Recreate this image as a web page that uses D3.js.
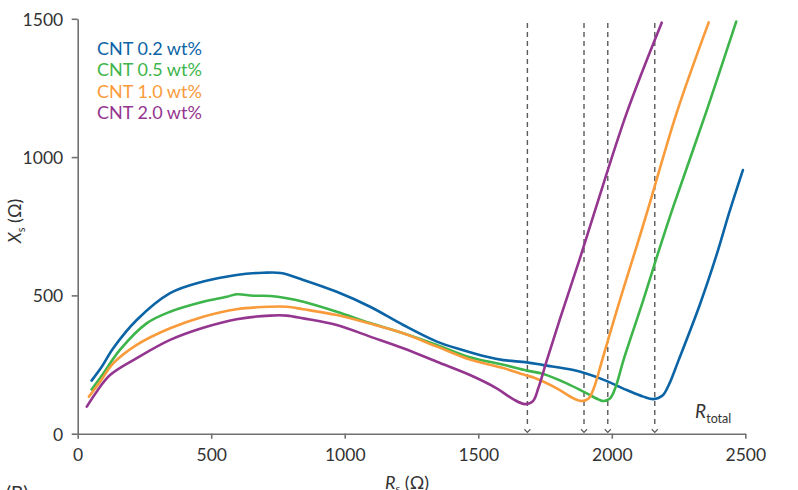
<!DOCTYPE html>
<html>
<head>
<meta charset="utf-8">
<script src="https://cdn.jsdelivr.net/npm/d3@7"></script>
<style>
  html, body { margin: 0; padding: 0; background: #ffffff; }
  svg { display: block; }
</style>
</head>
<body>
<svg id="chart" width="798" height="490"></svg>
<script>
// series names and colours
const seriesNames = ['CNT 0.2 wt%', 'CNT 0.5 wt%', 'CNT 1.0 wt%', 'CNT 2.0 wt%'];
const seriesColors = ['#0b64a5', '#3db54a', '#f99b3b', '#94368f'];

// [Rs, Xs] pairs
const cnt02 = [
  [52, 192], [90, 242], [133, 309], [221, 411], [346, 508], [470, 550], [595, 574],
  [695, 582], [760, 581], [845, 556], [970, 513], [1095, 459], [1219, 393], [1345, 333],
  [1444, 302], [1532, 278], [1594, 266], [1682, 258], [1744, 248], [1856, 230],
  [1956, 200], [2056, 158], [2118, 134], [2156, 125], [2190, 138], [2213, 175],
  [2250, 265], [2331, 470], [2393, 648], [2440, 800], [2491, 953]
];
const cnt05 = [
  [52, 160], [96, 218], [158, 303], [258, 399], [346, 441], [470, 477], [558, 495],
  [595, 504], [658, 499], [721, 498], [783, 490], [845, 477], [970, 441], [1095, 400],
  [1219, 363], [1345, 321], [1469, 276], [1590, 250], [1682, 228], [1744, 216],
  [1831, 182], [1906, 146], [1950, 124], [1969, 118], [1993, 127], [2013, 165],
  [2045, 270], [2118, 483], [2169, 640], [2230, 820], [2356, 1170], [2466, 1490]
];
const cnt10 = [
  [42, 134], [84, 188], [133, 254], [221, 321], [346, 381], [470, 423], [595, 450],
  [720, 459], [783, 459], [845, 450], [970, 429], [1095, 398], [1219, 363], [1345, 315],
  [1469, 268], [1590, 238], [1682, 210], [1707, 203], [1794, 164], [1856, 128],
  [1888, 118], [1913, 127], [1933, 165], [1965, 270], [2031, 485], [2094, 680],
  [2132, 800], [2243, 1160], [2363, 1487]
];
const cnt20 = [
  [34, 98], [71, 152], [121, 212], [221, 273], [346, 339], [470, 383], [595, 414],
  [720, 427], [783, 427], [845, 417], [970, 393], [1095, 351], [1219, 309], [1345, 260],
  [1469, 212], [1569, 164], [1632, 124], [1675, 107], [1705, 118], [1725, 165],
  [1755, 260], [1806, 415], [1881, 635], [1935, 800], [2056, 1160], [2187, 1486]
];
const seriesData = [cnt02, cnt05, cnt10, cnt20];

// R_total positions (dashed markers)
const rTotal = [1684, 1896, 1985, 2161];

const xTicks = [0, 500, 1000, 1500, 2000, 2500];
const yTicks = [0, 500, 1000, 1500];

const FONT = 'Lato, "DejaVu Sans", sans-serif';
const TEXT = '#333333';
const AXIS = '#707070';

const svg = d3.select('#chart');

const x = d3.scaleLinear().domain([0, 2500]).range([77.7, 745.3]);
const y = d3.scaleLinear().domain([0, 1500]).range([433.7, 18.8]);

// axes
const xAxis = svg.append('g')
  .attr('transform', `translate(0, ${y(0)})`)
  .call(d3.axisBottom(x).tickValues(xTicks).tickSize(5).tickSizeOuter(0).tickFormat(d3.format('d')));

xAxis.selectAll('text')
  .attr('dy', null)
  .attr('y', 27.5)
  .attr('fill', TEXT)
  .attr('font-size', 17.5)
  .attr('font-family', FONT);

const yAxis = svg.append('g')
  .attr('transform', `translate(${x(0)}, 0)`)
  .call(d3.axisLeft(y).tickValues(yTicks).tickSize(6).tickSizeOuter(0).tickFormat(d3.format('d')));

yAxis.selectAll('text')
  .attr('x', -14.5)
  .attr('dy', '0.36em')
  .attr('fill', TEXT)
  .attr('font-size', 17.5)
  .attr('font-family', FONT);

svg.selectAll('.domain, .tick line')
  .attr('stroke', AXIS)
  .attr('stroke-width', 1.6);

// dashed R_total markers
const markers = svg.append('g');
rTotal.forEach((r) => {
  markers.append('line')
    .attr('x1', x(r))
    .attr('x2', x(r))
    .attr('y1', y(1485))
    .attr('y2', y(25))
    .attr('stroke', '#5a5a5a')
    .attr('stroke-width', 1.4)
    .attr('stroke-dasharray', '5,4');

  markers.append('path')
    .attr('d', `M${x(r) - 3},${y(16)} L${x(r)},${y(5)} L${x(r) + 3},${y(16)}`)
    .attr('fill', 'none')
    .attr('stroke', '#5a5a5a')
    .attr('stroke-width', 1.2);
});

// curves
const line = d3.line()
  .x((d) => x(d[0]))
  .y((d) => y(d[1]))
  .curve(d3.curveCatmullRom.alpha(0.5));

seriesData.forEach((data, i) => {
  svg.append('path')
    .datum(data)
    .attr('d', line)
    .attr('fill', 'none')
    .attr('stroke', seriesColors[i])
    .attr('stroke-width', 2.6)
    .attr('stroke-linejoin', 'round')
    .attr('stroke-linecap', 'round');
});

// legend
seriesNames.forEach((name, i) => {
  svg.append('text')
    .attr('x', 97)
    .attr('y', 55 + (i * 21.3))
    .attr('fill', seriesColors[i])
    .attr('font-size', 18)
    .attr('font-family', FONT)
    .text(name);
});

// R_total label
const rLabel = svg.append('text')
  .attr('x', x(2312))
  .attr('y', y(56))
  .attr('fill', TEXT)
  .attr('font-family', FONT)
  .attr('font-size', 19);
rLabel.append('tspan').attr('font-style', 'italic').text('R');
rLabel.append('tspan').attr('font-size', 12.5).attr('dy', 5).text('total');

// axis titles
const xTitle = svg.append('text')
  .attr('x', 407)
  .attr('y', 489)
  .attr('text-anchor', 'middle')
  .attr('fill', TEXT)
  .attr('font-family', FONT)
  .attr('font-size', 18);
xTitle.append('tspan').attr('font-style', 'italic').text('R');
xTitle.append('tspan').attr('font-size', 11).attr('dy', 4).text('s');
xTitle.append('tspan').attr('dy', -4).text(' (Ω)');

const yTitle = svg.append('text')
  .attr('transform', 'translate(21, 221) rotate(-90)')
  .attr('text-anchor', 'middle')
  .attr('fill', TEXT)
  .attr('font-family', FONT)
  .attr('font-size', 18);
yTitle.append('tspan').attr('font-style', 'italic').text('X');
yTitle.append('tspan').attr('font-size', 11).attr('dy', 4).text('s');
yTitle.append('tspan').attr('dy', -4).text(' (Ω)');

// panel letter
svg.append('text')
  .attr('x', 6)
  .attr('y', 500)
  .attr('fill', TEXT)
  .attr('font-family', FONT)
  .attr('font-size', 19)
  .text('(B)');
</script>
</body>
</html>
